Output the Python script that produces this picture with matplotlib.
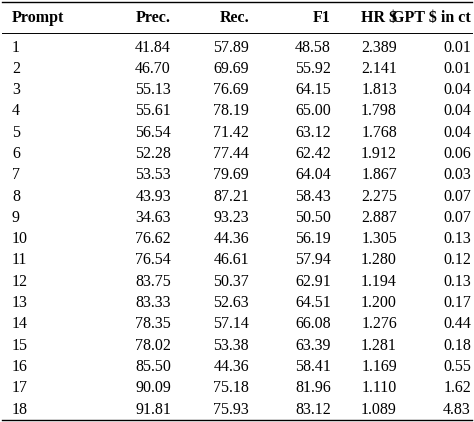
import matplotlib
matplotlib.use("Agg")
import matplotlib.pyplot as plt

headers = ["Prompt", "Prec.", "Rec.", "F1", "HR $", "GPT $ in ct"]
prompts = [str(i) for i in range(1, 19)]
prec = ["41.84","46.70","55.13","55.61","56.54","52.28","53.53","43.93","34.63","76.62","76.54","83.75","83.33","78.35","78.02","85.50","90.09","91.81"]
rec = ["57.89","69.69","76.69","78.19","71.42","77.44","79.69","87.21","93.23","44.36","46.61","50.37","52.63","57.14","53.38","44.36","75.18","75.93"]
f1 = ["48.58","55.92","64.15","65.00","63.12","62.42","64.04","58.43","50.50","56.19","57.94","62.91","64.51","66.08","63.39","58.41","81.96","83.12"]
hr = ["2.389","2.141","1.813","1.798","1.768","1.912","1.867","2.275","2.887","1.305","1.280","1.194","1.200","1.276","1.281","1.169","1.110","1.089"]
gpt = ["0.01","0.01","0.04","0.04","0.04","0.06","0.03","0.07","0.07","0.13","0.12","0.13","0.17","0.44","0.18","0.55","1.62","4.83"]

plt.rcParams['font.family'] = ['Liberation Serif', 'DejaVu Serif']
fig = plt.figure(figsize=(4.74, 4.22), dpi=100)
ax = fig.add_axes([0, 0, 1, 1])
ax.set_xlim(0, 474); ax.set_ylim(422, 0); ax.axis('off')

fs = 11.5
col_x = [12, 171, 249, 331, 397, 471]
aligns = ['left', 'right', 'right', 'right', 'right', 'right']
hy = 18
for x, h, a in zip(col_x, headers, aligns):
    ax.text(x, hy, h, ha=a, va='center', fontsize=fs, fontweight='bold')
ax.plot([2, 472], [2, 2], color='black', lw=1)
ax.plot([2, 472], [33, 33], color='black', lw=0.7)
ax.plot([2, 472], [420, 420], color='black', lw=1)

y0, dy = 47.5, 21.3
for i in range(len(prompts)):
    y = y0 + i * dy
    for x, v, a in zip(col_x, [prompts[i], prec[i], rec[i], f1[i], hr[i], gpt[i]], aligns):
        ax.text(x, y, v, ha=a, va='center', fontsize=fs)

fig.savefig("out.png", dpi=100)
